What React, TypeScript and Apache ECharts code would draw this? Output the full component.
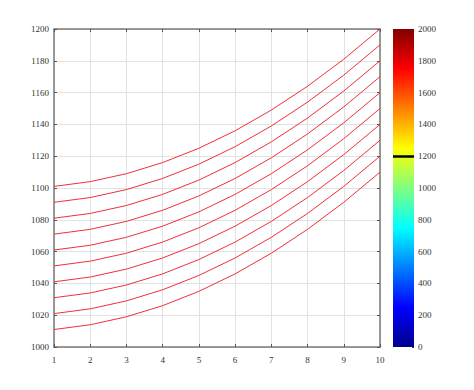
import React, { useEffect, useRef } from "react";
import * as echarts from "echarts";

const xValues = [1, 2, 3, 4, 5, 6, 7, 8, 9, 10];
const line1010 = [1011, 1014, 1019, 1026, 1035, 1046, 1059, 1074, 1091, 1110];
const line1020 = [1021, 1024, 1029, 1036, 1045, 1056, 1069, 1084, 1101, 1120];
const line1030 = [1031, 1034, 1039, 1046, 1055, 1066, 1079, 1094, 1111, 1130];
const line1040 = [1041, 1044, 1049, 1056, 1065, 1076, 1089, 1104, 1121, 1140];
const line1050 = [1051, 1054, 1059, 1066, 1075, 1086, 1099, 1114, 1131, 1150];
const line1060 = [1061, 1064, 1069, 1076, 1085, 1096, 1109, 1124, 1141, 1160];
const line1070 = [1071, 1074, 1079, 1086, 1095, 1106, 1119, 1134, 1151, 1170];
const line1080 = [1081, 1084, 1089, 1096, 1105, 1116, 1129, 1144, 1161, 1180];
const line1090 = [1091, 1094, 1099, 1106, 1115, 1126, 1139, 1154, 1171, 1190];
const line1100 = [1101, 1104, 1109, 1116, 1125, 1136, 1149, 1164, 1181, 1200];
const allLines = [line1010, line1020, line1030, line1040, line1050, line1060, line1070, line1080, line1090, line1100];

const colorbarMax = [2000];
const colorbarMarker = 1200;

const FONT = "'Liberation Serif', serif";

export default function App() {
  const ref = useRef<HTMLDivElement>(null);
  useEffect(() => {
    if (!ref.current) return;
    const chart = echarts.init(ref.current, undefined, { renderer: "svg" });
    const axisLine = { show: true, lineStyle: { color: "#7a7a7a", width: 1.5 } };
    const plain = (v: number) => String(v);
    const labelStyle = { color: "#333", fontFamily: FONT, fontSize: 9, formatter: plain };
    const gridLine = { show: true, lineStyle: { color: "#e2e2e2", width: 1 } };
    const tick = { show: true, inside: true, length: 3, lineStyle: { color: "#555" } };
    chart.setOption({
      animation: false,
      backgroundColor: "#fff",
      grid: [
        { left: 54, top: 29, right: 94, bottom: 43, containLabel: false },
        { left: 393, top: 29, right: 60, bottom: 43, containLabel: false },
      ],
      xAxis: [
        {
          gridIndex: 0, type: "value", min: 1, max: 10, interval: 1, position: "bottom",
          axisLine, axisTick: tick, splitLine: gridLine,
          axisLabel: { ...labelStyle, margin: 8 },
        },
        {
          gridIndex: 0, type: "value", min: 1, max: 10, interval: 1, position: "top",
          axisLine, axisTick: tick, splitLine: { show: false }, axisLabel: { show: false },
        },
        {
          gridIndex: 1, type: "category", data: ["c"], show: false,
        },
      ],
      yAxis: [
        {
          gridIndex: 0, type: "value", min: 1000, max: 1200, interval: 20, position: "left",
          axisLine, axisTick: tick, splitLine: gridLine,
          axisLabel: { ...labelStyle, margin: 5 },
        },
        {
          gridIndex: 0, type: "value", min: 1000, max: 1200, interval: 20, position: "right",
          axisLine, axisTick: tick, splitLine: { show: false }, axisLabel: { show: false },
        },
        {
          gridIndex: 1, type: "value", min: 0, max: 2000, interval: 200, position: "right",
          axisLine: { show: false },
          axisTick: { show: true, inside: true, length: 2, lineStyle: { color: "#333", width: 1 } },
          splitLine: { show: false },
          axisLabel: { ...labelStyle, margin: 4 },
        },
      ],
      series: [
        ...allLines.map((vals) => ({
          type: "line",
          xAxisIndex: 0,
          yAxisIndex: 0,
          data: xValues.map((x, i) => [x, vals[i]]),
          symbol: "none",
          lineStyle: { color: "#f0303a", width: 1 },
          silent: true,
        })),
        {
          type: "bar",
          xAxisIndex: 2,
          yAxisIndex: 2,
          data: colorbarMax,
          barWidth: "100%",
          silent: true,
          itemStyle: {
            color: new echarts.graphic.LinearGradient(0, 0, 0, 1, [
              { offset: 0, color: "#800000" },
              { offset: 0.125, color: "#ff0000" },
              { offset: 0.375, color: "#ffff00" },
              { offset: 0.625, color: "#00ffff" },
              { offset: 0.875, color: "#0000ff" },
              { offset: 1, color: "#00008f" },
            ]),
          },
          markLine: {
            silent: true,
            symbol: "none",
            label: { show: false },
            lineStyle: { color: "#000", width: 2.5, type: "solid" },
            data: [{ yAxis: colorbarMarker }],
          },
        },
      ],
    });
    return () => chart.dispose();
  }, []);
  return (
    <div
      ref={ref}
      style={{ position: "fixed", left: 0, top: 0, width: 474, height: 390, background: "#fff" }}
    />
  );
}
